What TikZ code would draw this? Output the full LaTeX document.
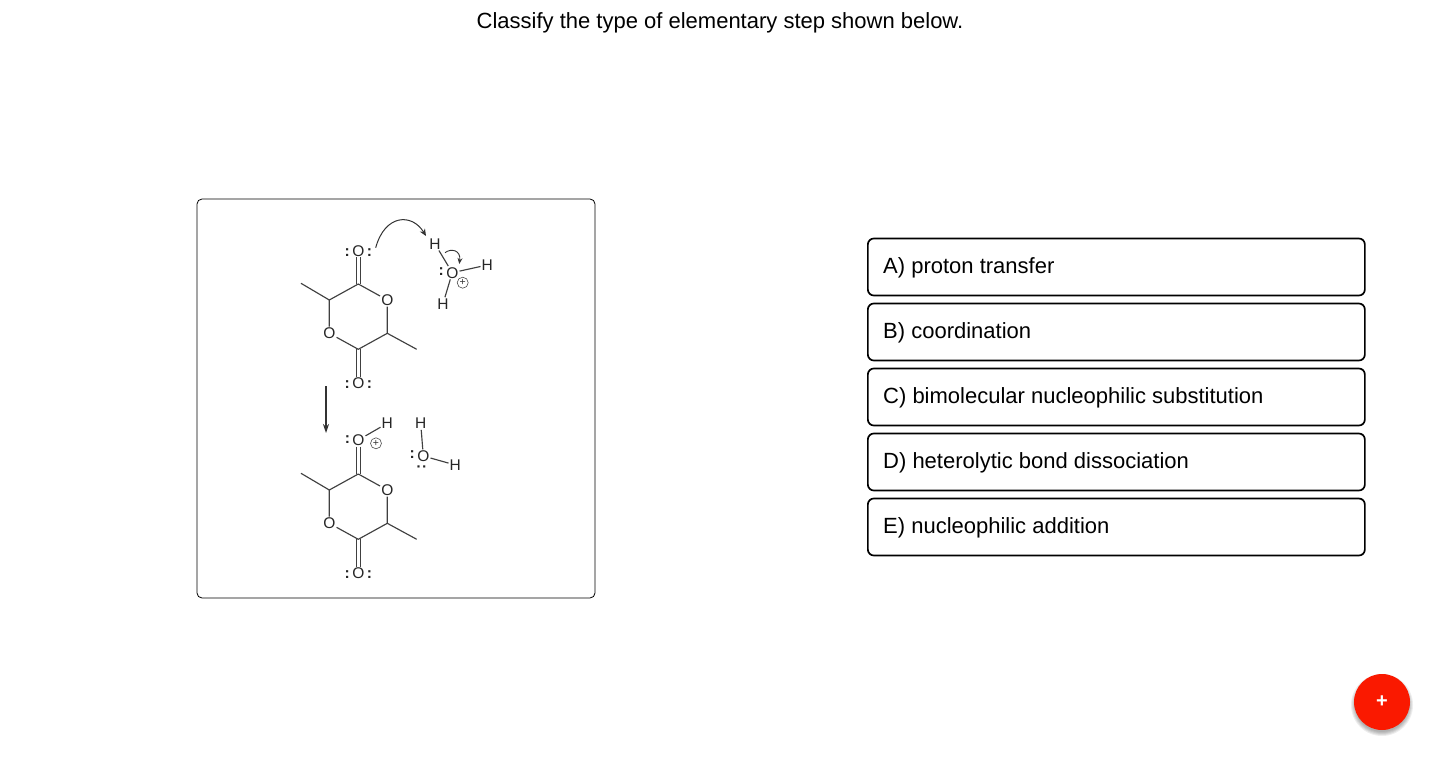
\documentclass[tikz,border=0pt]{standalone}
\usepackage{fontspec}
\setmainfont{Liberation Sans}
\usetikzlibrary{arrows.meta,positioning,calc}
\newcommand{\lonepair}{\textbf{:}}
\tikzset{
    atom/.style={inner sep=1pt, font=\fontsize{15.5}{15.5}\selectfont, text=black!85},
    bond/.style={draw=black!75, line width=1.15pt},
    curly/.style={draw=black!80, line width=1pt, -{Stealth[length=7pt,width=6pt]}},
    choice/.style={draw, line width=1.7pt, rounded corners=6pt, minimum width=497pt, minimum height=57pt, anchor=west, inner sep=0pt},
    choicetext/.style={font=\fontsize{22}{26}\selectfont, anchor=west, inner sep=0pt},
    charge/.style={circle, draw=black!70, line width=0.6pt, inner sep=0pt, minimum size=11pt, font=\fontsize{10.5}{10.5}\selectfont, text=black!80}
}
\begin{document}
\begin{tikzpicture}[x=1pt, y=-1pt]
    \useasboundingbox (0,0) rectangle (1440,760);
    \node [font=\fontsize{22}{26}\selectfont, inner sep=0pt] (question) at (720,22.5) {Classify the type of elementary step shown below.};
    \node [draw, line width=0.8pt, rounded corners=5pt, minimum width=398pt, minimum height=399pt, inner sep=0pt] (card) at (396,398.5) {};

    % Both lactide rings
    \foreach \dy/\m in {0/a, 190/b} {
        \coordinate (Ctop\m) at (358.3,284+\dy);
        \coordinate (Cright\m) at (387.3,333.3+\dy);
        \coordinate (Cbot\m) at (358.3,349.3+\dy);
        \coordinate (Cleft\m) at (329.3,300+\dy);
        \coordinate (Meleft\m) at (301,283.3+\dy);
        \coordinate (Meright\m) at (416.7,349.3+\dy);
        \node [atom] (Oring\m) at (387.3,300+\dy) {O};
        \node [atom] (Oleft\m) at (329.3,333.3+\dy) {O};
        \node [atom] (Obot\m) at (358.3,383.3+\dy) {\lonepair\,O\,\lonepair};
        \draw [bond] (Ctop\m) -- (Oring\m) -- (Cright\m) -- (Cbot\m) -- (Oleft\m) -- (Cleft\m) -- (Ctop\m);
        \draw [bond] (Cleft\m) -- (Meleft\m);
        \draw [bond] (Cright\m) -- (Meright\m);
        \draw [bond] ([xshift=-2pt]Obot\m.north) -- ([xshift=-2pt]Cbot\m);
        \draw [bond] ([xshift=2pt]Obot\m.north) -- ([xshift=2pt]Cbot\m);
    }

    % Top: hydronium
    \node [atom] (Otopa) at (358.3,250.7) {\lonepair\,O\,\lonepair};
    \draw [bond] ([xshift=-2pt]Otopa.south) -- ([xshift=-2pt]Ctopa);
    \draw [bond] ([xshift=2pt]Otopa.south) -- ([xshift=2pt]Ctopa);
    \node [atom] (Ow) at (452.3,272.7) {O};
    \node [atom] (Owlp) at (441.2,272) {\lonepair};
    \node [atom] (Hw1) at (435,244) {H};
    \node [atom] (Hw2) at (487.3,265) {H};
    \node [atom] (Hw3) at (443,303.7) {H};
    \node [charge] (plusa) at (462.7,282.7) {+};
    \foreach \h in {Hw1, Hw2, Hw3} {
        \draw [bond] (Ow) -- (\h);
    }
    \coordinate (arrAstart) at (375.7,247.7);
    \coordinate (arrAend) at (426,236);
    \coordinate (arrBstart) at (445,252.7);
    \coordinate (arrBend) at (459.3,264);
    \draw [curly] (arrAstart) .. controls (385,214) and (412,213) .. (arrAend);
    \draw [curly, line width=0.9pt, -{Stealth[length=6pt,width=5pt]}] (arrBstart) .. controls (451,248) and (461,250) .. (arrBend);

    % Reaction arrow
    \coordinate (rxnstart) at (326,386);
    \coordinate (rxnend) at (326,433);
    \draw [draw=black!80, line width=1.1pt, -{Stealth[length=9pt,width=6pt]}] (rxnstart) -- (rxnend);

    % Bottom: protonated carbonyl and water
    \node [atom] (Otopb) at (358.3,440) {O};
    \node [atom] (Otoplp) at (347.5,439.5) {\lonepair};
    \node [atom] (Hb) at (387.3,423.3) {H};
    \node [charge] (plusb) at (376,443.3) {+};
    \draw [bond] (Otopb) -- (Hb);
    \draw [bond] ([xshift=-2pt]Otopb.south) -- ([xshift=-2pt]Ctopb);
    \draw [bond] ([xshift=2pt]Otopb.south) -- ([xshift=2pt]Ctopb);
    \node [atom] (Owb) at (423.3,456) {O};
    \node [atom] (Owblp) at (412.3,455) {\lonepair};
    \node [atom, rotate=90] (Owblq) at (421.5,467) {\lonepair};
    \node [atom] (Hwb1) at (420.7,423.3) {H};
    \node [atom] (Hwb2) at (455.3,465) {H};
    \draw [bond] (Owb) -- (Hwb1);
    \draw [bond] (Owb) -- (Hwb2);

    % Answer choices
    \foreach \y/\nm/\lab in {267/A/A) proton transfer, 332/B/B) coordination, 397/C/C) bimolecular nucleophilic substitution, 462/D/D) heterolytic bond dissociation, 527/E/E) nucleophilic addition} {
        \node [choice] (box\nm) at (867,\y) {};
        \node [choicetext, right=16pt of box\nm.west, yshift=-1pt] (lab\nm) {\lab};
    }

    % Add button
    \foreach \r in {31,30,29,28,27} {
        \fill [black, opacity=0.07] (1382,705) circle (\r);
    }
    \node [circle, fill={rgb,255:red,250;green,25;blue,0}, minimum size=56pt, inner sep=0pt, text=white,
        font=\bfseries\fontsize{20}{20}\selectfont] (addbtn) at (1382,702) {+};
\end{tikzpicture}
\end{document}
